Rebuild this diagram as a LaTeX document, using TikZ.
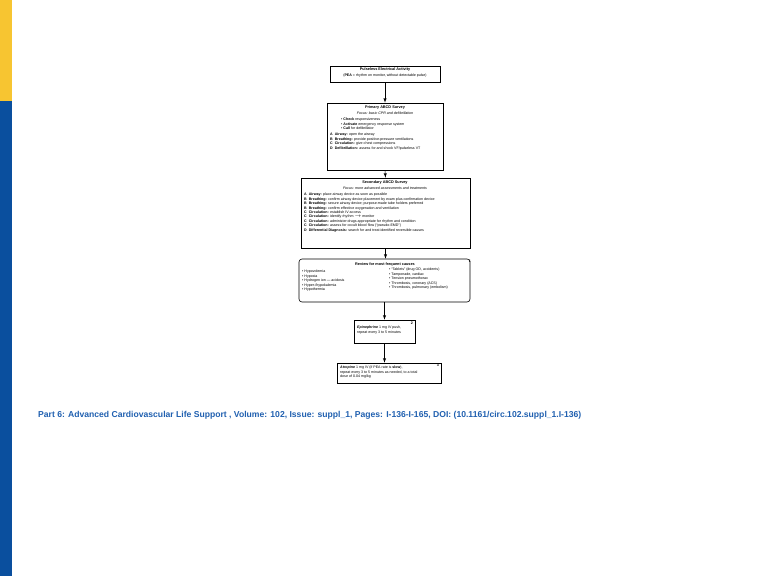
\documentclass[tikz,border=0pt]{standalone}
\usepackage{fontspec}
\setmainfont{Liberation Sans}
\definecolor{cbblue}{HTML}{0A4F9E}
\definecolor{cbyel}{HTML}{F7C531}
\definecolor{captblue}{HTML}{2060B0}
\begin{document}
\begin{tikzpicture}[x=1pt,y=-1pt,
  bx/.style={draw,line width=0.6pt,inner sep=0pt},
  tx/.style={font=\fontsize{3.6}{4.4}\selectfont,align=left,anchor=north west,inner sep=0pt},
  ttl/.style={font=\fontsize{3.8}{4.4}\selectfont\bfseries,anchor=north,inner sep=0pt},
  ar/.style={-latex,line width=0.5pt}]
\useasboundingbox (0,0) rectangle (768,576);
\fill[white] (0,0) rectangle (768,576);
\fill[cbyel] (0,0) rectangle (12,101);
\fill[cbblue] (0,101) rectangle (12,576);
% boxes
\node[bx,minimum width=110,minimum height=16] (pea) at (385,74) {};
\node[ttl] at (385,67.5) {Pulseless Electrical Activity};
\node[tx,anchor=north] at (385,74) {(\textbf{PEA} = rhythm on monitor, without detectable pulse)};
\node[bx,minimum width=116,minimum height=67] (pri) at (385,136.5) {};
\node[ttl] at (385,106) {Primary ABCD Survey};
\node[tx,anchor=north] at (385,112) {\textit{Focus: basic CPR and defibrillation}};
\node[tx] at (341,118) {\textbullet\ \textbf{Check} responsiveness\\\textbullet\ \textbf{Activate} emergency response system\\\textbullet\ \textbf{Call} for defibrillator};
\node[tx] at (330,133) {\textbf{A\ \ Airway:} open the airway\\\textbf{B\ \ Breathing:} provide positive-pressure ventilations\\\textbf{C\ \ Circulation:} give chest compressions\\\textbf{D\ \ Defibrillation:} assess for and shock VF/pulseless VT};
\node[bx,minimum width=169,minimum height=70] (sec) at (385.5,213) {};
\node[ttl] at (385,181) {Secondary ABCD Survey};
\node[tx,anchor=north] at (385,187) {\textit{Focus: more advanced assessments and treatments}};
\node[tx] at (304,193) {\textbf{A\ \ Airway:} place airway device as soon as possible\\\textbf{B\ \ Breathing:} confirm airway device placement by exam plus confirmation device\\\textbf{B\ \ Breathing:} secure airway device; purpose-made tube holders preferred\\\textbf{B\ \ Breathing:} confirm effective oxygenation and ventilation\\\textbf{C\ \ Circulation:} establish IV access\\\textbf{C\ \ Circulation:} identify rhythm $\rightarrow$ monitor\\\textbf{C\ \ Circulation:} administer drugs appropriate for rhythm and condition\\\textbf{C\ \ Circulation:} assess for occult blood flow (``pseudo-EMD'')\\\textbf{D\ \ Differential Diagnosis:} search for and treat identified reversible causes};
\node[bx,rounded corners=3pt,minimum width=171,minimum height=43] (rev) at (384.5,280.5) {};
\node[ttl] at (385,263) {Review for most frequent causes};
\node[tx] at (302,270) {\textbullet\ Hypovolemia\\\textbullet\ Hypoxia\\\textbullet\ Hydrogen ion --- acidosis\\\textbullet\ Hyper-/hypokalemia\\\textbullet\ Hypothermia};
\node[tx] at (389,268) {\textbullet\ ``Tablets'' (drug OD, accidents)\\\textbullet\ Tamponade, cardiac\\\textbullet\ Tension pneumothorax\\\textbullet\ Thrombosis, coronary (ACS)\\\textbullet\ Thrombosis, pulmonary (embolism)};
\node[tx,anchor=north east] at (471,260) {\textbf{1}};
\node[bx,minimum width=61,minimum height=23] (epi) at (384.5,331.5) {};
\node[tx] at (357,326) {\textbf{\textit{Epinephrine}} 1 mg IV push,\\repeat every 3 to 5 minutes};
\node[tx,anchor=north east] at (413,322) {\textbf{2}};
\node[bx,minimum width=104,minimum height=20] (atr) at (389,373) {};
\node[tx] at (340,366) {\textbf{\textit{Atropine}} 1 mg IV (if PEA rate is \textbf{slow}),\\repeat every 3 to 5 minutes as needed, to a total\\dose of 0.04 mg/kg};
\node[tx,anchor=north east] at (439,364) {\textbf{3}};
\draw[ar] (pea.south) -- (pri.north);
\draw[ar] (pri.south) -- (sec.north);
\draw[ar] (sec.south) -- (sec.south|-rev.north);
\draw[ar] (rev.south) -- (epi.north);
\draw[ar] (epi.south) -- (epi.south|-atr.north);
\node[anchor=west,inner sep=0pt,font=\fontsize{8.6}{10}\selectfont\bfseries,text=captblue] (cap) at (38,415) {Part 6: Advanced Cardiovascular Life Support , Volume: 102, Issue: suppl\_1, Pages: I-136-I-165, DOI: (10.1161/circ.102.suppl\_1.I-136)};
\end{tikzpicture}
\end{document}
